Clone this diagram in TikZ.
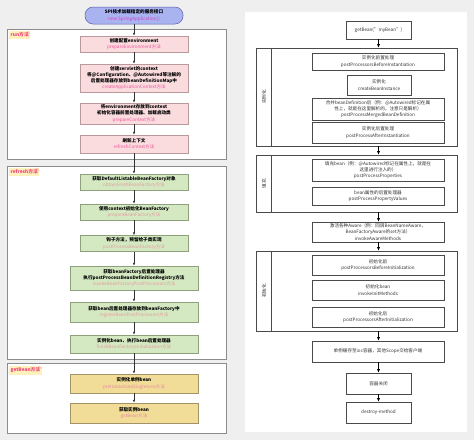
\documentclass[tikz,border=0pt]{standalone}
\usepackage{fontspec}
\setmainfont{Noto Sans CJK SC}
\usetikzlibrary{arrows.meta}
\definecolor{bg}{HTML}{EFEFEF}
\definecolor{panelline}{HTML}{8C8C8C}
\definecolor{spifill}{HTML}{A9B3F0}
\definecolor{spiline}{HTML}{5B5FA8}
\definecolor{spitext}{HTML}{D040C8}
\definecolor{pinkfill}{HTML}{FADCDF}
\definecolor{pinkline}{HTML}{B89A9C}
\definecolor{pinktext}{HTML}{F0509A}
\definecolor{greenfill}{HTML}{D4E9C2}
\definecolor{greenline}{HTML}{8FA07C}
\definecolor{greentext}{HTML}{E39A9E}
\definecolor{khakifill}{HTML}{F1DD98}
\definecolor{khakiline}{HTML}{A39468}
\definecolor{khakitext}{HTML}{E886A2}
\definecolor{notefill}{HTML}{FFF1BC}
\definecolor{notetext}{HTML}{F0407A}
\definecolor{rline}{HTML}{4A4A4A}
\definecolor{rtext}{HTML}{333333}
\tikzset{
  txt/.style={font=\fontsize{4.6}{6.3}\selectfont, align=center, inner sep=0pt},
  lbox/.style={txt, draw, line width=0.5pt, font=\fontsize{4.6}{6.3}\selectfont\bfseries},
  pinkbox/.style={lbox, fill=pinkfill, draw=pinkline},
  greenbox/.style={lbox, fill=greenfill, draw=greenline},
  khakibox/.style={lbox, fill=khakifill, draw=khakiline},
  panel/.style={draw=panelline, fill=white, line width=0.8pt},
  notebox/.style={fill=notefill, text=notetext, font=\fontsize{4.8}{6}\selectfont\bfseries, inner sep=1.5pt, anchor=north west},
  rbox/.style={txt, draw=rline, fill=white, line width=0.6pt, text=rtext},
  rgroup/.style={draw=rline, line width=0.6pt},
  larrow/.style={draw=black!80, line width=0.5pt, -{Latex[length=3pt,width=2.4pt]}},
  rarrow/.style={draw=black, line width=0.6pt, -{Latex[length=3.5pt,width=3pt]}}
}
\newcommand{\mpink}[1]{{\mdseries\color{pinktext}#1}}
\newcommand{\mgreen}[1]{{\mdseries\color{greentext}#1}}
\newcommand{\mkhaki}[1]{{\mdseries\color{khakitext}#1}}
\begin{document}
\begin{tikzpicture}[x=1pt,y=-1pt]
\useasboundingbox (0,0) rectangle (474,440);
\fill[bg] (0,0) rectangle (474,440);

% ---------------- left: panels ----------------
\draw[panel] (7,29) rectangle (226,159);
\draw[panel] (7,166) rectangle (226,359);
\draw[panel] (7,363) rectangle (226,433);

\node[notebox] (nrun) at (9,31) {run方法};
\node[notebox] (nrefresh) at (9,168) {refresh方法};
\node[notebox] (ngetbean) at (9,366) {getBean方法};
\foreach \n in {nrun,nrefresh,ngetbean}{
  \draw[notetext!60, line width=0.3pt] ([xshift=-3pt]\n.north east) -- ++(2,2) -- ++(0.5,0.8);
}

% ---------------- left: boxes ----------------
\node[lbox, fill=spifill, draw=spiline, rounded corners=8pt, minimum width=98pt, minimum height=17pt] (spi) at (134,15.5)
  {SPI技术加载指定的服务接口\\ \mdseries{\color{spitext}new SpringApplication()}};

\node[pinkbox, minimum width=108pt, minimum height=16pt] (b1) at (134,44)
  {创建配置environment\\ \mpink{prepareEnvironment方法}};
\node[pinkbox, minimum width=108pt, minimum height=28pt] (b2) at (134,78)
  {创建servlet的context\\ 将@Configuration、@Autowired等注解的\\ 后置处理器存放到beanDefinitionMap中\\ \mpink{createApplicationContext方法}};
\node[pinkbox, minimum width=108pt, minimum height=21pt] (b3) at (134,113.5)
  {将environment存放到context\\ 初始化容器前置处理器、加载启动类\\ \mpink{prepareContext方法}};
\node[pinkbox, minimum width=108pt, minimum height=18pt] (b4) at (134,144)
  {刷新上下文\\ \mpink{refreshContext方法}};

\node[greenbox, minimum width=108pt, minimum height=16pt] (b5) at (134,182)
  {获取DefaultListableBeanFactory对象\\ \mgreen{obtainFreshBeanFactory方法}};
\node[greenbox, minimum width=108pt, minimum height=16pt] (b6) at (134,212)
  {使用context初始化BeanFactory\\ \mgreen{prepareBeanFactory方法}};
\node[greenbox, minimum width=108pt, minimum height=16pt] (b7) at (134,243.5)
  {钩子方法，预留给子类实现\\ \mgreen{postProcessBeanFactory方法}};
\node[greenbox, minimum width=128pt, minimum height=24pt] (b8) at (134,278)
  {获取beanFactory后置处理器\\ 执行postProcessBeanDefinitionRegistry方法\\ \mgreen{invokeBeanFactoryPostProcessors方法}};
\node[greenbox, minimum width=128pt, minimum height=20pt] (b9) at (134,312)
  {获取bean后置处理器存放到beanFactory中\\ \mgreen{registerBeanPostProcessors方法}};
\node[greenbox, minimum width=128pt, minimum height=18pt] (b10) at (134,344)
  {实例化bean、执行bean后置处理器\\ \mgreen{finishBeanFactoryInitialization方法}};

\node[khakibox, minimum width=128pt, minimum height=19pt] (b11) at (134,383.5)
  {实例化单例bean\\ \mkhaki{preInstantiateSingletons方法}};
\node[khakibox, minimum width=128pt, minimum height=20pt] (b12) at (134,413)
  {获取实例bean\\ \mkhaki{getBean方法}};

\draw[larrow] (spi) -- (b1);
\draw[larrow] (b1) -- (b2);
\draw[larrow] (b2) -- (b3);
\draw[larrow] (b3) -- (b4);
\draw[larrow] (b4) -- (b5);
\draw[larrow] (b5) -- (b6);
\draw[larrow] (b6) -- (b7);
\draw[larrow] (b7) -- (b8);
\draw[larrow] (b8) -- (b9);
\draw[larrow] (b9) -- (b10);
\draw[larrow] (b10) -- (b11);
\draw[larrow] (b11) -- (b12);

% ---------------- right ----------------
\fill[white] (245,12) rectangle (467,432);

\node[rbox, minimum width=65pt, minimum height=18pt] (r0) at (378.5,30) {getBean("myBean")};

% group 1: 实例化
\node[rgroup, minimum width=201pt, minimum height=98pt, inner sep=0pt] (g1) at (356.5,97) {};
\draw[rgroup] ([xshift=16pt]g1.north west) -- ([xshift=16pt]g1.south west);
\node[txt, text=rtext, rotate=90] (l1) at (264,97) {实例化};
\node[rbox, minimum width=132pt, minimum height=17pt] (ra) at (378,61.5)
  {实例化前置处理\\ postProcessorsBeforeInstantiation};
\node[rbox, minimum width=64pt, minimum height=20pt] (rb) at (379,85)
  {实例化\\ createBeanInstance};
\node[rbox, minimum width=132pt, minimum height=22pt] (rc) at (378,109)
  {合并beanDefinition后（例：@Autowired标记在属\\ 性上，就是在这里解析的，注意只是解析）\\ postProcessMergedBeanDefinition};
\node[rbox, minimum width=132pt, minimum height=21pt] (rd) at (378,132.5)
  {实例化后置处理\\ postProcessAfterInstantiation};

% group 2: 填充
\node[rgroup, minimum width=201pt, minimum height=57pt, inner sep=0pt] (g2) at (356.5,183.5) {};
\draw[rgroup] ([xshift=16pt]g2.north west) -- ([xshift=16pt]g2.south west);
\node[txt, text=rtext, rotate=90] (l2) at (264,183.5) {填充};
\node[rbox, minimum width=132pt, minimum height=22pt] (re) at (378,170)
  {填充bean（例：@Autowired标记在属性上，就是在\\ 这里进行注入的）\\ postProcessProperties};
\node[rbox, minimum width=132pt, minimum height=18pt] (rf) at (378,196)
  {bean属性的后置处理器\\ postProcessPropertyValues};

\node[rbox, minimum width=132pt, minimum height=20pt] (rg) at (378,232)
  {激活各种Aware（例：回调BeanNameAware、\\ BeanFactoryAware的set方法）\\ invokeAwareMethods};

% group 3: 初始化
\node[rgroup, minimum width=201pt, minimum height=80pt, inner sep=0pt] (g3) at (356.5,291) {};
\draw[rgroup] ([xshift=16pt]g3.north west) -- ([xshift=16pt]g3.south west);
\node[txt, text=rtext, rotate=90] (l3) at (264,291) {初始化};
\node[rbox, minimum width=132pt, minimum height=20pt] (rh) at (378,265)
  {初始化前\\ postProcessorsBeforeInitialization};
\node[rbox, minimum width=132pt, minimum height=20pt] (ri) at (378,290)
  {初始化bean\\ invokeInitMethods};
\node[rbox, minimum width=132pt, minimum height=20pt] (rj) at (378,317)
  {初始化后\\ postProcessorsAfterInitialization};

\node[rbox, minimum width=132pt, minimum height=21pt] (rk) at (378,351.5)
  {单例缓存至ioc容器，其他Scope交给客户端};
\node[rbox, minimum width=65pt, minimum height=21pt] (rl) at (378.5,383.5) {容器关闭};
\node[rbox, minimum width=65pt, minimum height=21pt] (rm) at (378.5,412.5) {destroy-method};

\draw[rarrow] (r0.south) -- (r0.south |- g1.north);
\draw[rarrow] (g1.south -| r0.south) -- (r0.south |- g2.north);
\draw[rarrow] (g2.south -| r0.south) -- (r0.south |- rg.north);
\draw[rarrow] (rg.south -| r0.south) -- (r0.south |- g3.north);
\draw[rarrow] (g3.south -| r0.south) -- (r0.south |- rk.north);
\draw[rarrow] (rk.south -| r0.south) -- (rl.north);
\draw[rarrow] (rl) -- (rm);
\end{tikzpicture}
\end{document}
